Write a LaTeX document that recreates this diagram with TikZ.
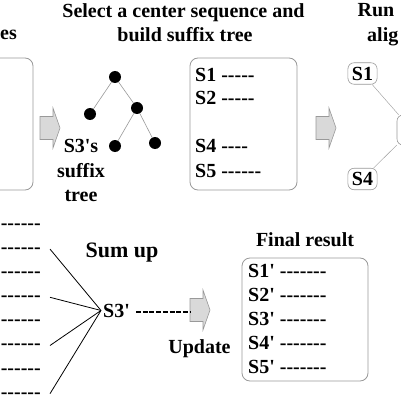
\documentclass[tikz,border=0pt]{standalone}
\usepackage{fontspec}
\setmainfont{Liberation Serif}[Ligatures=TeXOff]

\tikzset{	RBox/.style={draw=boxGray,rounded corners=8pt,line width=0.8pt},
		SNode/.style={draw=boxGray,rounded corners=6pt,inner sep=4pt,line width=0.6pt},
		Leaf/.style={circle,fill=black,inner sep=0pt,minimum size=12pt},
		Txt/.style={inner sep=0pt,anchor=base west},
		Ttl/.style={inner sep=0pt,anchor=base},
		BigArrow/.style={fill=arrowFill,draw=boxGray,line width=0.6pt}
				}
\definecolor{boxGray}{rgb}{0.6,0.6,0.6}
\definecolor{arrowFill}{rgb}{0.85,0.85,0.85}

\begin{document}
\begin{tikzpicture}[x=1pt,y=-1pt,font=\bfseries\fontsize{20}{24}\selectfont]
	\useasboundingbox (0,0) rectangle (401,401);
	\fill[white] (0,0) rectangle (401,401);

        % ueberschriften
        \node[Txt] (inp) at (0,40) {es};
        \node[Ttl] (sel) at (183.5,18) {Select a center sequence and};
        \node[Ttl] (bld) at (185,42) {build suffix tree};
        \node[Ttl] (run) at (376,17) {Run};
        \node[Txt] (alg) at (367,42) {alig};

        % kasten links, pfeile
        \draw[RBox] (-20,58) rectangle (33,190);
        \foreach \ax/\ay in {40/128,316/128,190/310}
            \draw[BigArrow] (\ax,\ay-11.5)--++(13,0)--++(0,-8.5)--++(7,20)--++(-7,20)--++(0,-8.5)--++(-13,0)--cycle;

        % suffixbaum
	\node[Leaf] (root) at (115,77) {};
	\node[Leaf] (la) at (90,114) {};
	\node[Leaf] (mid) at (137,108) {};
	\node[Leaf] (lb) at (115,146) {};
	\node[Leaf] (lc) at (155,143) {};
        \draw[boxGray,semithick] (root)--(la) (root)--(mid) (mid)--(lb) (mid)--(lc);
        \node[Ttl] (st1) at (81,152) {S3's};
        \node[Ttl] (st2) at (81,177) {suffix};
        \node[Ttl] (st3) at (81,201) {tree};

        % kasten mit sequenzen
        \draw[RBox] (190,58) rectangle (297,190);
        \node[Txt] (q1) at (195,82) {S1 -----};
        \node[Txt] (q2) at (195,105) {S2 -----};
        \node[Txt] (q4) at (195,152) {S4 ----};
        \node[Txt] (q5) at (195,177) {S5 ------};

        % stern rechts
        \node[SNode] (p1) at (362.5,73.5) {S1};
        \node[SNode] (p4) at (362.5,179) {S4};
        \node[SNode,minimum width=30pt,minimum height=30pt] (pc) at (412,130) {};
        \draw[boxGray,thin] (p1)--(pc);
        \draw[boxGray,thin] (p4)--(pc);

        % unten: summe
        \foreach \r in {0,...,7}
            \node[inner sep=0pt,anchor=base east] (h\r) at (41,229.4+24.1*\r) {------};
        \foreach \r in {1,3,5,7}
            \coordinate (e\r) at (50,225+24.1*\r);
        \node[Ttl,font=\bfseries\fontsize{22}{26}\selectfont] (sum) at (122,257) {Sum up};
        \node[inner sep=2pt,anchor=base west] (s3p) at (101,317) {S3'};
        \foreach \r in {1,3,5,7}
            \draw[black,thick] (e\r)--(s3p.west);
        \coordinate (tail) at (190,312);
        \draw[black,line width=2pt,dash pattern=on 5pt off 1.7pt,shorten <=4pt] (s3p.east|-tail)--(tail);
        \node[Ttl] (upd) at (199.5,353) {Update};

        % endergebnis
        \node[Ttl] (fin) at (305,246) {Final result};
        \draw[RBox] (242,258) rectangle (368,381);
        \foreach \r in {1,...,5}
            \node[Txt] (f\r) at (248,277+24*\r-24) {S\r' -------};
\end{tikzpicture}
\end{document}
